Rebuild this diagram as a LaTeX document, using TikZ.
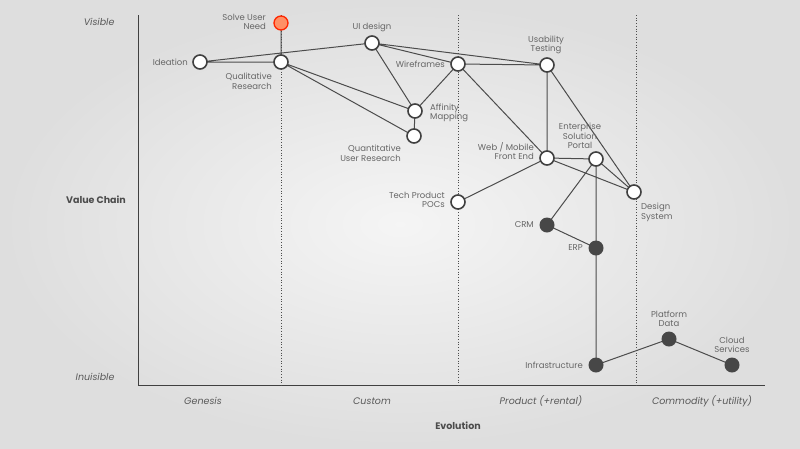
\documentclass[tikz,border=0pt]{standalone}
\usepackage{fontspec}
\setmainfont{Poppins}
\begin{document}
\begin{tikzpicture}[x=1pt,y=-1pt,
  lab/.style={font=\fontsize{8.5}{9.5}\selectfont,text=black!60,align=right,inner sep=1pt},
  wn/.style={circle,draw=black!75,line width=1.6pt,fill=white,minimum size=14pt,inner sep=0},
  dn/.style={circle,fill=black!72,minimum size=15pt,inner sep=0},
  rn/.style={circle,draw=red!70!orange,line width=1.3pt,fill=red!45!orange!60!white,minimum size=14pt,inner sep=0},
  ed/.style={draw=black!70,line width=1pt},
  ax/.style={font=\fontsize{9.5}{10}\selectfont\itshape,text=black!65}]
\useasboundingbox (0,0) rectangle (800,448);
\shade[inner color=black!4,outer color=black!13] (0,0) rectangle (800,448);
% axes
\draw[black!75,line width=0.8pt] (138,15) -- (138,385) -- (765,385);
\foreach \x in {281,458,636} \draw[black!70,dotted,line width=0.7pt] (\x,15) -- (\x,385);
\node[ax,anchor=east] at (118,22) {Visible};
\node[ax,anchor=east] at (118,377) {Inuisible};
\node[font=\fontsize{9.5}{10}\selectfont\bfseries,text=black!70] at (96,200) {Value Chain};
\node[font=\fontsize{9.5}{10}\selectfont\bfseries,text=black!70] at (458,426) {Evolution};
\node[ax] at (203,401) {Genesis};
\node[ax] at (372,401) {Custom};
\node[ax] at (541,401) {Product (+rental)};
\node[ax] at (702,401) {Commodity (+utility)};
% node positions
\coordinate (need) at (281,23);
\coordinate (ide) at (200,62);
\coordinate (qual) at (281,62);
\coordinate (ui) at (372,43);
\coordinate (aff) at (415,111);
\coordinate (quant) at (414,136);
\coordinate (wire) at (458,64);
\coordinate (usa) at (547,65);
\coordinate (web) at (547,158);
\coordinate (ent) at (596,159);
\coordinate (poc) at (458,202);
\coordinate (des) at (634,192);
\coordinate (crm) at (547,225);
\coordinate (erp) at (596,248);
\coordinate (inf) at (596,365);
\coordinate (plat) at (669,339);
\coordinate (cloud) at (732,365);
% edges
\draw[ed] (need)--(qual) (ide)--(qual) (ide)--(ui) (qual)--(aff) (qual)--(quant)
 (ui)--(aff) (ui)--(wire) (ui)--(usa) (wire)--(aff) (aff)--(quant) (wire)--(usa) (wire)--(web)
 (usa)--(web) (usa)--(des) (web)--(ent) (web)--(des) (web)--(poc) (ent)--(des)
 (ent)--(crm) (ent)--(erp) (erp)--(inf) (crm)--(erp) (inf)--(plat) (plat)--(cloud);
% nodes on top
\foreach \n in {ide,qual,ui,aff,quant,wire,usa,web,ent,poc,des}
  \node[wn] (n\n) at (\n) {};
\foreach \n in {crm,erp,inf,plat,cloud} \node[dn] (n\n) at (\n) {};
\node[rn] (nneed) at (need) {};
% labels
\node[lab,anchor=east] at (267,22) {Solve User\\Need};
\node[lab,anchor=east] at (189,62) {Ideation};
\node[lab,anchor=north east] at (273,72) {Qualitative\\Research};
\node[lab,anchor=south] at (372,33) {UI design};
\node[lab,anchor=west,align=left] at (429,113) {Affinity\\Mapping};
\node[lab,anchor=north east] at (402,144) {Quantitative\\User Research};
\node[lab,anchor=east] at (446,64) {Wireframes};
\node[lab,anchor=south,align=center] at (546,55) {Usability\\Testing};
\node[lab,anchor=east] at (535,151) {Web / Mobile\\Front End};
\node[lab,anchor=south,align=center] at (580,150) {Enterprise\\Solution\\Portal};
\node[lab,anchor=east] at (446,200) {Tech Product\\POCs};
\node[lab,anchor=north west,align=left] at (640,202) {Design\\System};
\node[lab,anchor=east] at (535,225) {CRM};
\node[lab,anchor=east] at (584,248) {ERP};
\node[lab,anchor=east] at (584,365) {Infrastructure};
\node[lab,anchor=south,align=center] at (669,328) {Platform\\Data};
\node[lab,anchor=south,align=center] at (732,354) {Cloud\\Services};
\end{tikzpicture}
\end{document}
